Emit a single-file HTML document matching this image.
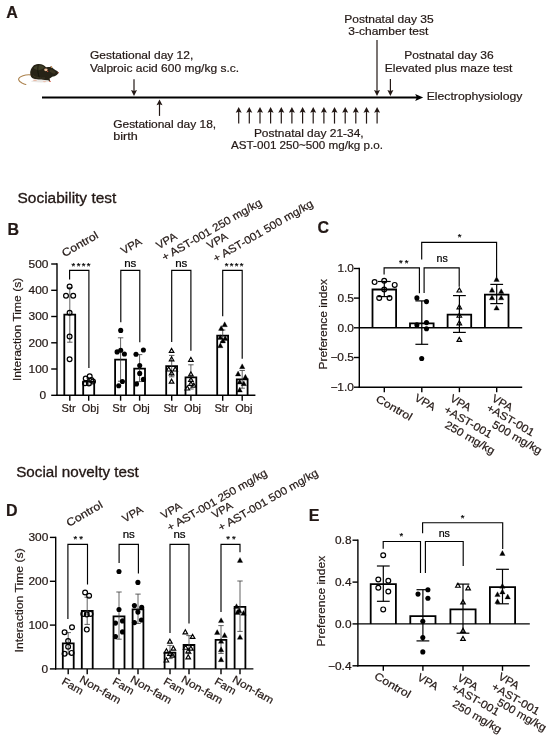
<!DOCTYPE html>
<html lang="en"><head><meta charset="utf-8"><title>Figure</title>
<style>html,body{margin:0;padding:0;background:#fff}svg{display:block}text{font-family:"Liberation Sans",sans-serif}</style></head>
<body>
<svg width="550" height="743" viewBox="0 0 550 743" font-family="'Liberation Sans', sans-serif" fill="#231815">
<rect width="550" height="743" fill="#fff"/>
<text x="6.2" y="17.7" font-size="16" font-weight="bold" stroke="#231815" stroke-width="0.2">A</text>
<defs><filter id="soft" x="-10%" y="-10%" width="120%" height="120%"><feGaussianBlur stdDeviation="0.4"/></filter></defs>
<ellipse cx="41" cy="81.2" rx="10" ry="1.3" fill="#d8d2cc" opacity="0.55" filter="url(#soft)"/>
<g id="mouse" filter="url(#soft)">
<path d="M31 74.9 C28 74.6 25 75 23 75.8 C20.4 76.8 18.4 78.2 18.6 79.6 C18.9 81.2 20.6 82.2 22 83 C23.2 83.6 24.6 84.2 25.8 84.5" fill="none" stroke="#ad8450" stroke-width="1.15" stroke-linecap="round"/>
<path d="M30.2 72 C30.6 69.6 31.4 67.8 32.8 66.4 C34.2 65 36 64.2 38 64.1 C40 64 41.8 64.2 43.2 64.9 C44.4 65.6 45.2 66.4 46 67.2 C47.4 67 49 67 50.2 67 C50.6 66.4 51 66 51.5 66 C52 66.2 52.2 67 52.3 67.8 C53.2 68.4 54 69 54.6 69.6 C56 70.4 57.6 71.4 58.5 72.5 C58.5 73.4 57.8 74.2 56.8 74.9 C55.4 75.8 53.8 76.4 52.2 76.8 C51.4 77.6 50.4 78.2 49.6 78.6 C49.8 79.6 50 80.4 50 81.2 C49.4 81.4 48.8 81 48.4 80.2 C46 80.2 43.6 79.8 41.2 79.5 C38.6 79.6 35.6 79.2 33.2 78.5 C31.8 77.8 31 77 30.8 76 C30.3 74.8 30.1 73.4 30.2 72 Z" fill="#262215"/>
<path d="M33.5 68 C35 66 37.5 65 40 65.2 C42 65.4 43.6 66.2 44.6 67.6 C43 69.2 41 70 38.6 70.2 C36.6 70.2 34.8 69.4 33.5 68 Z" fill="#47452c" opacity="0.75"/>
<path d="M38.2 65.4 C37.4 69 37.8 73.6 39.4 77.6" fill="none" stroke="#0d0c07" stroke-width="0.8" opacity="0.8"/>
<ellipse cx="52.6" cy="71.6" rx="3.2" ry="1.6" fill="#4a4630" opacity="0.55" transform="rotate(25 52.6 71.6)"/>
<path d="M33 75.5 C35.5 77.6 40 78.4 45 78" fill="none" stroke="#45412b" stroke-width="0.9" opacity="0.6"/>
<ellipse cx="45.9" cy="69.8" rx="1.75" ry="1.4" fill="#e8b48e"/>
<ellipse cx="46.1" cy="69.9" rx="0.8" ry="0.6" fill="#f6dcc0"/>
<ellipse cx="51.4" cy="67.0" rx="0.7" ry="1.0" fill="#d9a06e"/>
<circle cx="47.6" cy="71.4" r="0.7" fill="#b84a3a"/>
<circle cx="58.2" cy="72.6" r="0.65" fill="#a4483c"/>
<ellipse cx="35.0" cy="80.2" rx="2.0" ry="0.7" fill="#e8b9a6"/>
<ellipse cx="44.6" cy="81.6" rx="1.9" ry="0.7" fill="#ecc3b2"/>
<ellipse cx="50.0" cy="81.4" rx="0.8" ry="0.6" fill="#d8604a"/>
</g>
<line x1="42.0" y1="97.5" x2="417.0" y2="97.5" stroke="#000" stroke-width="2.0"/>
<path d="M423.2 97.5 L415.2 94.1 L416.8 97.5 L415.2 100.9 Z" fill="#000"/>
<text x="90.0" y="59.0" font-size="11.0" textLength="103.3" lengthAdjust="spacingAndGlyphs" stroke="#231815" stroke-width="0.2">Gestational day 12,</text>
<text x="90.0" y="71.6" font-size="11.0" textLength="149.1" lengthAdjust="spacingAndGlyphs" stroke="#231815" stroke-width="0.2">Valproic acid 600 mg/kg s.c.</text>
<line x1="134.0" y1="79.3" x2="134.0" y2="92.4" stroke="#231815" stroke-width="1.2"/>
<path d="M134.0 95.9 L131.0 90.1 L134.0 91.0 L137.0 90.1 Z" fill="#231815"/>
<line x1="159.5" y1="115.9" x2="159.5" y2="102.9" stroke="#231815" stroke-width="1.2"/>
<path d="M159.5 99.4 L156.5 105.2 L159.5 104.3 L162.5 105.2 Z" fill="#231815"/>
<text x="113.2" y="127.7" font-size="11.0" textLength="103.0" lengthAdjust="spacingAndGlyphs" stroke="#231815" stroke-width="0.2">Gestational day 18,</text>
<text x="113.2" y="139.9" font-size="11.0" textLength="24.5" lengthAdjust="spacingAndGlyphs" stroke="#231815" stroke-width="0.2">birth</text>
<line x1="238.7" y1="123.6" x2="238.7" y2="110.4" stroke="#231815" stroke-width="1.2"/>
<path d="M238.7 106.9 L235.7 112.7 L238.7 111.8 L241.7 112.7 Z" fill="#231815"/>
<line x1="249.3" y1="123.6" x2="249.3" y2="110.4" stroke="#231815" stroke-width="1.2"/>
<path d="M249.3 106.9 L246.3 112.7 L249.3 111.8 L252.3 112.7 Z" fill="#231815"/>
<line x1="260.0" y1="123.6" x2="260.0" y2="110.4" stroke="#231815" stroke-width="1.2"/>
<path d="M260.0 106.9 L257.0 112.7 L260.0 111.8 L263.0 112.7 Z" fill="#231815"/>
<line x1="270.6" y1="123.6" x2="270.6" y2="110.4" stroke="#231815" stroke-width="1.2"/>
<path d="M270.6 106.9 L267.6 112.7 L270.6 111.8 L273.6 112.7 Z" fill="#231815"/>
<line x1="281.3" y1="123.6" x2="281.3" y2="110.4" stroke="#231815" stroke-width="1.2"/>
<path d="M281.3 106.9 L278.3 112.7 L281.3 111.8 L284.3 112.7 Z" fill="#231815"/>
<line x1="291.9" y1="123.6" x2="291.9" y2="110.4" stroke="#231815" stroke-width="1.2"/>
<path d="M291.9 106.9 L288.9 112.7 L291.9 111.8 L294.9 112.7 Z" fill="#231815"/>
<line x1="302.6" y1="123.6" x2="302.6" y2="110.4" stroke="#231815" stroke-width="1.2"/>
<path d="M302.6 106.9 L299.6 112.7 L302.6 111.8 L305.6 112.7 Z" fill="#231815"/>
<line x1="313.2" y1="123.6" x2="313.2" y2="110.4" stroke="#231815" stroke-width="1.2"/>
<path d="M313.2 106.9 L310.2 112.7 L313.2 111.8 L316.2 112.7 Z" fill="#231815"/>
<line x1="323.9" y1="123.6" x2="323.9" y2="110.4" stroke="#231815" stroke-width="1.2"/>
<path d="M323.9 106.9 L320.9 112.7 L323.9 111.8 L326.9 112.7 Z" fill="#231815"/>
<line x1="334.5" y1="123.6" x2="334.5" y2="110.4" stroke="#231815" stroke-width="1.2"/>
<path d="M334.5 106.9 L331.5 112.7 L334.5 111.8 L337.5 112.7 Z" fill="#231815"/>
<line x1="345.2" y1="123.6" x2="345.2" y2="110.4" stroke="#231815" stroke-width="1.2"/>
<path d="M345.2 106.9 L342.2 112.7 L345.2 111.8 L348.2 112.7 Z" fill="#231815"/>
<line x1="355.8" y1="123.6" x2="355.8" y2="110.4" stroke="#231815" stroke-width="1.2"/>
<path d="M355.8 106.9 L352.8 112.7 L355.8 111.8 L358.8 112.7 Z" fill="#231815"/>
<line x1="366.5" y1="123.6" x2="366.5" y2="110.4" stroke="#231815" stroke-width="1.2"/>
<path d="M366.5 106.9 L363.5 112.7 L366.5 111.8 L369.5 112.7 Z" fill="#231815"/>
<line x1="377.1" y1="123.6" x2="377.1" y2="110.4" stroke="#231815" stroke-width="1.2"/>
<path d="M377.1 106.9 L374.1 112.7 L377.1 111.8 L380.1 112.7 Z" fill="#231815"/>
<text x="253.9" y="136.5" font-size="11.0" textLength="109.8" lengthAdjust="spacingAndGlyphs" stroke="#231815" stroke-width="0.2">Postnatal day 21-34,</text>
<text x="231.0" y="148.9" font-size="11.0" textLength="152.0" lengthAdjust="spacingAndGlyphs" stroke="#231815" stroke-width="0.2">AST-001 250~500 mg/kg p.o.</text>
<text x="344.3" y="22.8" font-size="11.0" textLength="89.3" lengthAdjust="spacingAndGlyphs" stroke="#231815" stroke-width="0.2">Postnatal day 35</text>
<text x="348.3" y="35.3" font-size="11.0" textLength="80.1" lengthAdjust="spacingAndGlyphs" stroke="#231815" stroke-width="0.2">3-chamber test</text>
<line x1="377.0" y1="40.0" x2="377.0" y2="92.4" stroke="#231815" stroke-width="1.2"/>
<path d="M377.0 95.9 L374.0 90.1 L377.0 91.0 L380.0 90.1 Z" fill="#231815"/>
<text x="404.3" y="58.8" font-size="11.0" textLength="89.3" lengthAdjust="spacingAndGlyphs" stroke="#231815" stroke-width="0.2">Postnatal day 36</text>
<text x="384.7" y="71.6" font-size="11.0" textLength="127.7" lengthAdjust="spacingAndGlyphs" stroke="#231815" stroke-width="0.2">Elevated plus maze test</text>
<line x1="390.4" y1="79.0" x2="390.4" y2="92.4" stroke="#231815" stroke-width="1.2"/>
<path d="M390.4 95.9 L387.4 90.1 L390.4 91.0 L393.4 90.1 Z" fill="#231815"/>
<text x="426.7" y="99.6" font-size="11.0" textLength="95.7" lengthAdjust="spacingAndGlyphs" stroke="#231815" stroke-width="0.2">Electrophysiology</text>
<text x="17.5" y="203.3" font-size="13.8" textLength="98.8" lengthAdjust="spacingAndGlyphs" stroke="#231815" stroke-width="0.3">Sociability test</text>
<text x="16.2" y="476.8" font-size="13.8" textLength="122.6" lengthAdjust="spacingAndGlyphs" stroke="#231815" stroke-width="0.3">Social novelty test</text>
<text x="7.5" y="234.6" font-size="16" font-weight="bold" stroke="#231815" stroke-width="0.2">B</text>
<text x="317.6" y="233.0" font-size="16" font-weight="bold" stroke="#231815" stroke-width="0.2">C</text>
<text x="5.9" y="515.6" font-size="16" font-weight="bold" stroke="#231815" stroke-width="0.2">D</text>
<text x="308.7" y="520.7" font-size="16" font-weight="bold" stroke="#231815" stroke-width="0.2">E</text>
<path d="M64.3 395.3 V314.7 H75.2 V395.3" fill="#fff" stroke="#000" stroke-width="1.8" stroke-linejoin="miter"/>
<path d="M83.2 395.3 V381.6 H94.2 V395.3" fill="#fff" stroke="#000" stroke-width="1.8" stroke-linejoin="miter"/>
<path d="M115.1 395.3 V359.6 H126.0 V395.3" fill="#fff" stroke="#000" stroke-width="1.8" stroke-linejoin="miter"/>
<path d="M134.2 395.3 V368.6 H145.0 V395.3" fill="#fff" stroke="#000" stroke-width="1.8" stroke-linejoin="miter"/>
<path d="M166.2 395.3 V366.1 H177.1 V395.3" fill="#fff" stroke="#000" stroke-width="1.8" stroke-linejoin="miter"/>
<path d="M185.5 395.3 V377.4 H196.3 V395.3" fill="#fff" stroke="#000" stroke-width="1.8" stroke-linejoin="miter"/>
<path d="M217.2 395.3 V335.7 H228.1 V395.3" fill="#fff" stroke="#000" stroke-width="1.8" stroke-linejoin="miter"/>
<path d="M236.8 395.3 V379.4 H247.6 V395.3" fill="#fff" stroke="#000" stroke-width="1.8" stroke-linejoin="miter"/>
<line x1="69.8" y1="287.4" x2="69.8" y2="342.2" stroke="#3a3a3a" stroke-width="0.8"/>
<line x1="67.1" y1="287.4" x2="72.5" y2="287.4" stroke="#3a3a3a" stroke-width="0.8"/>
<line x1="67.1" y1="342.2" x2="72.5" y2="342.2" stroke="#3a3a3a" stroke-width="0.8"/>
<circle cx="69.6" cy="286.5" r="2.4" fill="none" stroke="#000" stroke-width="1.2"/>
<circle cx="66.0" cy="295.8" r="2.4" fill="none" stroke="#000" stroke-width="1.2"/>
<circle cx="73.2" cy="295.8" r="2.4" fill="none" stroke="#000" stroke-width="1.2"/>
<circle cx="69.6" cy="312.8" r="2.4" fill="none" stroke="#000" stroke-width="1.2"/>
<circle cx="69.6" cy="336.5" r="2.4" fill="none" stroke="#000" stroke-width="1.2"/>
<circle cx="69.6" cy="359.2" r="2.4" fill="none" stroke="#000" stroke-width="1.2"/>
<line x1="88.7" y1="378.0" x2="88.7" y2="385.2" stroke="#3a3a3a" stroke-width="0.8"/>
<line x1="86.0" y1="378.0" x2="91.4" y2="378.0" stroke="#3a3a3a" stroke-width="0.8"/>
<line x1="86.0" y1="385.2" x2="91.4" y2="385.2" stroke="#3a3a3a" stroke-width="0.8"/>
<circle cx="85.7" cy="378.5" r="2.4" fill="none" stroke="#000" stroke-width="1.2"/>
<circle cx="89.7" cy="376.3" r="2.4" fill="none" stroke="#000" stroke-width="1.2"/>
<circle cx="93.0" cy="381.6" r="2.4" fill="none" stroke="#000" stroke-width="1.2"/>
<circle cx="85.0" cy="383.2" r="2.4" fill="none" stroke="#000" stroke-width="1.2"/>
<circle cx="88.9" cy="383.4" r="2.4" fill="none" stroke="#000" stroke-width="1.2"/>
<circle cx="91.4" cy="380.0" r="2.4" fill="none" stroke="#000" stroke-width="1.2"/>
<line x1="120.6" y1="337.8" x2="120.6" y2="381.2" stroke="#3a3a3a" stroke-width="0.8"/>
<line x1="117.9" y1="337.8" x2="123.3" y2="337.8" stroke="#3a3a3a" stroke-width="0.8"/>
<line x1="117.9" y1="381.2" x2="123.3" y2="381.2" stroke="#3a3a3a" stroke-width="0.8"/>
<circle cx="120.7" cy="330.4" r="2.55" fill="#000"/>
<circle cx="117.1" cy="351.9" r="2.55" fill="#000"/>
<circle cx="120.7" cy="350.3" r="2.55" fill="#000"/>
<circle cx="124.4" cy="354.0" r="2.55" fill="#000"/>
<circle cx="122.4" cy="381.5" r="2.55" fill="#000"/>
<circle cx="118.7" cy="385.8" r="2.55" fill="#000"/>
<line x1="139.6" y1="354.6" x2="139.6" y2="381.6" stroke="#3a3a3a" stroke-width="0.8"/>
<line x1="136.9" y1="354.6" x2="142.3" y2="354.6" stroke="#3a3a3a" stroke-width="0.8"/>
<line x1="136.9" y1="381.6" x2="142.3" y2="381.6" stroke="#3a3a3a" stroke-width="0.8"/>
<circle cx="143.4" cy="350.0" r="2.55" fill="#000"/>
<circle cx="136.0" cy="354.3" r="2.55" fill="#000"/>
<circle cx="139.7" cy="365.6" r="2.55" fill="#000"/>
<circle cx="139.7" cy="373.4" r="2.55" fill="#000"/>
<circle cx="143.4" cy="379.4" r="2.55" fill="#000"/>
<circle cx="136.5" cy="383.9" r="2.55" fill="#000"/>
<line x1="171.7" y1="355.4" x2="171.7" y2="376.8" stroke="#3a3a3a" stroke-width="0.8"/>
<line x1="169.0" y1="355.4" x2="174.4" y2="355.4" stroke="#3a3a3a" stroke-width="0.8"/>
<line x1="169.0" y1="376.8" x2="174.4" y2="376.8" stroke="#3a3a3a" stroke-width="0.8"/>
<polygon points="171.6,348.4 169.3,352.4 173.9,352.4" fill="none" stroke="#000" stroke-width="1.15"/>
<polygon points="171.6,356.8 169.3,360.8 173.9,360.8" fill="none" stroke="#000" stroke-width="1.15"/>
<polygon points="168.7,367.0 166.4,371.0 171.0,371.0" fill="none" stroke="#000" stroke-width="1.15"/>
<polygon points="175.2,367.0 172.9,371.0 177.5,371.0" fill="none" stroke="#000" stroke-width="1.15"/>
<polygon points="171.6,370.9 169.3,374.9 173.9,374.9" fill="none" stroke="#000" stroke-width="1.15"/>
<polygon points="171.6,379.1 169.3,383.1 173.9,383.1" fill="none" stroke="#000" stroke-width="1.15"/>
<line x1="190.9" y1="364.8" x2="190.9" y2="389.0" stroke="#3a3a3a" stroke-width="0.8"/>
<line x1="188.2" y1="364.8" x2="193.6" y2="364.8" stroke="#3a3a3a" stroke-width="0.8"/>
<line x1="188.2" y1="389.0" x2="193.6" y2="389.0" stroke="#3a3a3a" stroke-width="0.8"/>
<polygon points="190.9,357.3 188.6,361.3 193.2,361.3" fill="none" stroke="#000" stroke-width="1.15"/>
<polygon points="190.9,371.8 188.6,375.8 193.2,375.8" fill="none" stroke="#000" stroke-width="1.15"/>
<polygon points="190.9,377.5 188.6,381.5 193.2,381.5" fill="none" stroke="#000" stroke-width="1.15"/>
<polygon points="193.8,383.1 191.5,387.1 196.1,387.1" fill="none" stroke="#000" stroke-width="1.15"/>
<polygon points="187.3,386.0 185.0,390.0 189.6,390.0" fill="none" stroke="#000" stroke-width="1.15"/>
<polygon points="190.9,381.5 188.6,385.5 193.2,385.5" fill="none" stroke="#000" stroke-width="1.15"/>
<line x1="222.7" y1="330.0" x2="222.7" y2="341.8" stroke="#3a3a3a" stroke-width="0.8"/>
<line x1="220.0" y1="330.0" x2="225.4" y2="330.0" stroke="#3a3a3a" stroke-width="0.8"/>
<line x1="220.0" y1="341.8" x2="225.4" y2="341.8" stroke="#3a3a3a" stroke-width="0.8"/>
<polygon points="224.7,321.8 222.0,326.7 227.4,326.7" fill="#000" stroke="#000" stroke-width="0.3" stroke-linejoin="round"/>
<polygon points="221.2,325.5 218.5,330.4 223.9,330.4" fill="#000" stroke="#000" stroke-width="0.3" stroke-linejoin="round"/>
<polygon points="220.3,334.7 217.6,339.6 223.0,339.6" fill="#000" stroke="#000" stroke-width="0.3" stroke-linejoin="round"/>
<polygon points="225.2,335.5 222.5,340.4 227.9,340.4" fill="#000" stroke="#000" stroke-width="0.3" stroke-linejoin="round"/>
<polygon points="222.8,338.0 220.1,342.9 225.5,342.9" fill="#000" stroke="#000" stroke-width="0.3" stroke-linejoin="round"/>
<polygon points="220.3,342.8 217.6,347.7 223.0,347.7" fill="#000" stroke="#000" stroke-width="0.3" stroke-linejoin="round"/>
<line x1="242.2" y1="370.5" x2="242.2" y2="388.2" stroke="#3a3a3a" stroke-width="0.8"/>
<line x1="239.5" y1="370.5" x2="244.9" y2="370.5" stroke="#3a3a3a" stroke-width="0.8"/>
<line x1="239.5" y1="388.2" x2="244.9" y2="388.2" stroke="#3a3a3a" stroke-width="0.8"/>
<polygon points="242.2,363.8 239.5,368.7 244.9,368.7" fill="#000" stroke="#000" stroke-width="0.3" stroke-linejoin="round"/>
<polygon points="238.1,371.1 235.4,376.0 240.8,376.0" fill="#000" stroke="#000" stroke-width="0.3" stroke-linejoin="round"/>
<polygon points="245.4,374.3 242.7,379.2 248.1,379.2" fill="#000" stroke="#000" stroke-width="0.3" stroke-linejoin="round"/>
<polygon points="239.7,379.2 237.0,384.1 242.4,384.1" fill="#000" stroke="#000" stroke-width="0.3" stroke-linejoin="round"/>
<polygon points="243.8,380.8 241.1,385.7 246.5,385.7" fill="#000" stroke="#000" stroke-width="0.3" stroke-linejoin="round"/>
<polygon points="239.7,387.2 237.0,392.1 242.4,392.1" fill="#000" stroke="#000" stroke-width="0.3" stroke-linejoin="round"/>
<line x1="57.0" y1="263.2" x2="57.0" y2="396.0" stroke="#000" stroke-width="1.4"/>
<line x1="56.3" y1="395.3" x2="255.4" y2="395.3" stroke="#000" stroke-width="1.4"/>
<line x1="51.2" y1="395.3" x2="57.0" y2="395.3" stroke="#000" stroke-width="1.4"/>
<text x="46.2" y="399.0" font-size="10.4" text-anchor="end" textLength="6.6" lengthAdjust="spacingAndGlyphs" stroke="#231815" stroke-width="0.2">0</text>
<line x1="51.2" y1="369.0" x2="57.0" y2="369.0" stroke="#000" stroke-width="1.4"/>
<text x="48.4" y="372.7" font-size="10.4" text-anchor="end" textLength="19.9" lengthAdjust="spacingAndGlyphs" stroke="#231815" stroke-width="0.2">100</text>
<line x1="51.2" y1="342.8" x2="57.0" y2="342.8" stroke="#000" stroke-width="1.4"/>
<text x="48.4" y="346.5" font-size="10.4" text-anchor="end" textLength="19.9" lengthAdjust="spacingAndGlyphs" stroke="#231815" stroke-width="0.2">200</text>
<line x1="51.2" y1="316.5" x2="57.0" y2="316.5" stroke="#000" stroke-width="1.4"/>
<text x="48.4" y="320.2" font-size="10.4" text-anchor="end" textLength="19.9" lengthAdjust="spacingAndGlyphs" stroke="#231815" stroke-width="0.2">300</text>
<line x1="51.2" y1="290.3" x2="57.0" y2="290.3" stroke="#000" stroke-width="1.4"/>
<text x="48.4" y="294.0" font-size="10.4" text-anchor="end" textLength="19.9" lengthAdjust="spacingAndGlyphs" stroke="#231815" stroke-width="0.2">400</text>
<line x1="51.2" y1="264.0" x2="57.0" y2="264.0" stroke="#000" stroke-width="1.4"/>
<text x="48.4" y="267.7" font-size="10.4" text-anchor="end" textLength="19.9" lengthAdjust="spacingAndGlyphs" stroke="#231815" stroke-width="0.2">500</text>
<line x1="69.8" y1="395.3" x2="69.8" y2="400.7" stroke="#000" stroke-width="1.4"/>
<line x1="88.7" y1="395.3" x2="88.7" y2="400.7" stroke="#000" stroke-width="1.4"/>
<line x1="120.6" y1="395.3" x2="120.6" y2="400.7" stroke="#000" stroke-width="1.4"/>
<line x1="139.6" y1="395.3" x2="139.6" y2="400.7" stroke="#000" stroke-width="1.4"/>
<line x1="171.7" y1="395.3" x2="171.7" y2="400.7" stroke="#000" stroke-width="1.4"/>
<line x1="190.9" y1="395.3" x2="190.9" y2="400.7" stroke="#000" stroke-width="1.4"/>
<line x1="222.7" y1="395.3" x2="222.7" y2="400.7" stroke="#000" stroke-width="1.4"/>
<line x1="242.2" y1="395.3" x2="242.2" y2="400.7" stroke="#000" stroke-width="1.4"/>
<text x="21.4" y="329.4" font-size="10.7" text-anchor="middle" transform="rotate(-90 21.4 329.4)" textLength="103.2" lengthAdjust="spacingAndGlyphs" stroke="#231815" stroke-width="0.2">Interaction Time (s)</text>
<path d="M69.6 279.5 V270.4 H88.9 V368.0" fill="none" stroke="#000" stroke-width="1.15"/>
<text x="81.0" y="269.1" font-size="9.5" text-anchor="middle" textLength="18.8" lengthAdjust="spacing" fill="#000" stroke="#000" stroke-width="0.2">****</text>
<path d="M120.8 322.3 V270.4 H139.8 V342.2" fill="none" stroke="#000" stroke-width="1.15"/>
<text x="130.3" y="266.9" font-size="10.8" text-anchor="middle" textLength="12.2" lengthAdjust="spacingAndGlyphs" fill="#000" stroke="#000" stroke-width="0.2">ns</text>
<path d="M171.7 341.9 V270.4 H190.9 V350.8" fill="none" stroke="#000" stroke-width="1.15"/>
<text x="181.3" y="266.9" font-size="10.8" text-anchor="middle" textLength="12.2" lengthAdjust="spacingAndGlyphs" fill="#000" stroke="#000" stroke-width="0.2">ns</text>
<path d="M222.7 316.3 V270.4 H242.2 V358.8" fill="none" stroke="#000" stroke-width="1.15"/>
<text x="234.1" y="269.1" font-size="9.5" text-anchor="middle" textLength="18.8" lengthAdjust="spacing" fill="#000" stroke="#000" stroke-width="0.2">****</text>
<text x="68.6" y="411.6" font-size="10.7" text-anchor="middle" textLength="14.2" lengthAdjust="spacingAndGlyphs" stroke="#231815" stroke-width="0.2">Str</text>
<text x="90.3" y="411.6" font-size="10.7" text-anchor="middle" textLength="17.1" lengthAdjust="spacingAndGlyphs" stroke="#231815" stroke-width="0.2">Obj</text>
<text x="119.4" y="411.6" font-size="10.7" text-anchor="middle" textLength="14.2" lengthAdjust="spacingAndGlyphs" stroke="#231815" stroke-width="0.2">Str</text>
<text x="141.2" y="411.6" font-size="10.7" text-anchor="middle" textLength="17.1" lengthAdjust="spacingAndGlyphs" stroke="#231815" stroke-width="0.2">Obj</text>
<text x="170.5" y="411.6" font-size="10.7" text-anchor="middle" textLength="14.2" lengthAdjust="spacingAndGlyphs" stroke="#231815" stroke-width="0.2">Str</text>
<text x="192.5" y="411.6" font-size="10.7" text-anchor="middle" textLength="17.1" lengthAdjust="spacingAndGlyphs" stroke="#231815" stroke-width="0.2">Obj</text>
<text x="221.5" y="411.6" font-size="10.7" text-anchor="middle" textLength="14.2" lengthAdjust="spacingAndGlyphs" stroke="#231815" stroke-width="0.2">Str</text>
<text x="243.8" y="411.6" font-size="10.7" text-anchor="middle" textLength="17.1" lengthAdjust="spacingAndGlyphs" stroke="#231815" stroke-width="0.2">Obj</text>
<text x="64.5" y="257.3" font-size="10.9" transform="rotate(-30 64.5 257.3)" textLength="40.0" lengthAdjust="spacingAndGlyphs" stroke="#231815" stroke-width="0.2">Control</text>
<text x="123.6" y="254.7" font-size="10.9" transform="rotate(-30 123.6 254.7)" textLength="22.1" lengthAdjust="spacingAndGlyphs" stroke="#231815" stroke-width="0.2">VPA</text>
<text x="158.7" y="249.4" font-size="10.9" transform="rotate(-30 158.7 249.4)" textLength="22.1" lengthAdjust="spacingAndGlyphs" stroke="#231815" stroke-width="0.2">VPA</text>
<text x="164.4" y="261.3" font-size="10.9" transform="rotate(-30 164.4 261.3)" textLength="113.4" lengthAdjust="spacingAndGlyphs" stroke="#231815" stroke-width="0.2">+ AST-001 250 mg/kg</text>
<text x="209.6" y="249.4" font-size="10.9" transform="rotate(-30 209.6 249.4)" textLength="22.1" lengthAdjust="spacingAndGlyphs" stroke="#231815" stroke-width="0.2">VPA</text>
<text x="215.8" y="262.5" font-size="10.9" transform="rotate(-30 215.8 262.5)" textLength="113.4" lengthAdjust="spacingAndGlyphs" stroke="#231815" stroke-width="0.2">+ AST-001 500 mg/kg</text>
<path d="M62.8 668.9 V643.3 H73.7 V668.9" fill="#fff" stroke="#000" stroke-width="1.8" stroke-linejoin="miter"/>
<path d="M81.8 668.9 V610.8 H92.7 V668.9" fill="#fff" stroke="#000" stroke-width="1.8" stroke-linejoin="miter"/>
<path d="M113.5 668.9 V616.4 H124.5 V668.9" fill="#fff" stroke="#000" stroke-width="1.8" stroke-linejoin="miter"/>
<path d="M132.6 668.9 V609.4 H143.4 V668.9" fill="#fff" stroke="#000" stroke-width="1.8" stroke-linejoin="miter"/>
<path d="M164.6 668.9 V652.6 H175.4 V668.9" fill="#fff" stroke="#000" stroke-width="1.8" stroke-linejoin="miter"/>
<path d="M183.6 668.9 V645.0 H194.4 V668.9" fill="#fff" stroke="#000" stroke-width="1.8" stroke-linejoin="miter"/>
<path d="M215.6 668.9 V639.8 H226.4 V668.9" fill="#fff" stroke="#000" stroke-width="1.8" stroke-linejoin="miter"/>
<path d="M234.6 668.9 V606.9 H245.4 V668.9" fill="#fff" stroke="#000" stroke-width="1.8" stroke-linejoin="miter"/>
<line x1="68.2" y1="632.6" x2="68.2" y2="654.0" stroke="#3a3a3a" stroke-width="0.8"/>
<line x1="65.5" y1="632.6" x2="70.9" y2="632.6" stroke="#3a3a3a" stroke-width="0.8"/>
<line x1="65.5" y1="654.0" x2="70.9" y2="654.0" stroke="#3a3a3a" stroke-width="0.8"/>
<circle cx="72.0" cy="627.3" r="2.4" fill="none" stroke="#000" stroke-width="1.2"/>
<circle cx="64.6" cy="632.2" r="2.4" fill="none" stroke="#000" stroke-width="1.2"/>
<circle cx="68.1" cy="641.0" r="2.4" fill="none" stroke="#000" stroke-width="1.2"/>
<circle cx="68.1" cy="646.8" r="2.4" fill="none" stroke="#000" stroke-width="1.2"/>
<circle cx="64.6" cy="653.8" r="2.4" fill="none" stroke="#000" stroke-width="1.2"/>
<circle cx="71.6" cy="652.9" r="2.4" fill="none" stroke="#000" stroke-width="1.2"/>
<line x1="87.2" y1="597.2" x2="87.2" y2="624.4" stroke="#3a3a3a" stroke-width="0.8"/>
<line x1="84.5" y1="597.2" x2="89.9" y2="597.2" stroke="#3a3a3a" stroke-width="0.8"/>
<line x1="84.5" y1="624.4" x2="89.9" y2="624.4" stroke="#3a3a3a" stroke-width="0.8"/>
<circle cx="85.1" cy="592.5" r="2.4" fill="none" stroke="#000" stroke-width="1.2"/>
<circle cx="89.1" cy="595.8" r="2.4" fill="none" stroke="#000" stroke-width="1.2"/>
<circle cx="83.3" cy="613.9" r="2.4" fill="none" stroke="#000" stroke-width="1.2"/>
<circle cx="86.8" cy="614.4" r="2.4" fill="none" stroke="#000" stroke-width="1.2"/>
<circle cx="90.5" cy="613.9" r="2.4" fill="none" stroke="#000" stroke-width="1.2"/>
<circle cx="86.8" cy="629.6" r="2.4" fill="none" stroke="#000" stroke-width="1.2"/>
<line x1="119.0" y1="592.0" x2="119.0" y2="639.2" stroke="#3a3a3a" stroke-width="0.8"/>
<line x1="116.3" y1="592.0" x2="121.7" y2="592.0" stroke="#3a3a3a" stroke-width="0.8"/>
<line x1="116.3" y1="639.2" x2="121.7" y2="639.2" stroke="#3a3a3a" stroke-width="0.8"/>
<circle cx="119.0" cy="571.5" r="2.55" fill="#000"/>
<circle cx="119.0" cy="609.5" r="2.55" fill="#000"/>
<circle cx="122.5" cy="620.9" r="2.55" fill="#000"/>
<circle cx="115.5" cy="623.1" r="2.55" fill="#000"/>
<circle cx="122.5" cy="631.9" r="2.55" fill="#000"/>
<circle cx="115.5" cy="636.6" r="2.55" fill="#000"/>
<line x1="138.0" y1="594.1" x2="138.0" y2="623.5" stroke="#3a3a3a" stroke-width="0.8"/>
<line x1="135.3" y1="594.1" x2="140.7" y2="594.1" stroke="#3a3a3a" stroke-width="0.8"/>
<line x1="135.3" y1="623.5" x2="140.7" y2="623.5" stroke="#3a3a3a" stroke-width="0.8"/>
<circle cx="137.9" cy="582.4" r="2.55" fill="#000"/>
<circle cx="134.4" cy="605.6" r="2.55" fill="#000"/>
<circle cx="141.7" cy="607.4" r="2.55" fill="#000"/>
<circle cx="137.9" cy="612.1" r="2.55" fill="#000"/>
<circle cx="141.4" cy="620.0" r="2.55" fill="#000"/>
<circle cx="134.4" cy="622.6" r="2.55" fill="#000"/>
<line x1="170.0" y1="645.4" x2="170.0" y2="658.6" stroke="#3a3a3a" stroke-width="0.8"/>
<line x1="167.3" y1="645.4" x2="172.7" y2="645.4" stroke="#3a3a3a" stroke-width="0.8"/>
<line x1="167.3" y1="658.6" x2="172.7" y2="658.6" stroke="#3a3a3a" stroke-width="0.8"/>
<polygon points="169.9,639.1 167.6,643.1 172.2,643.1" fill="none" stroke="#000" stroke-width="1.15"/>
<polygon points="173.4,646.1 171.1,650.1 175.7,650.1" fill="none" stroke="#000" stroke-width="1.15"/>
<polygon points="166.4,648.7 164.1,652.8 168.7,652.8" fill="none" stroke="#000" stroke-width="1.15"/>
<polygon points="172.5,653.1 170.2,657.1 174.8,657.1" fill="none" stroke="#000" stroke-width="1.15"/>
<polygon points="166.4,658.0 164.1,662.0 168.7,662.0" fill="none" stroke="#000" stroke-width="1.15"/>
<polygon points="169.9,651.3 167.6,655.4 172.2,655.4" fill="none" stroke="#000" stroke-width="1.15"/>
<line x1="189.0" y1="635.6" x2="189.0" y2="653.6" stroke="#3a3a3a" stroke-width="0.8"/>
<line x1="186.3" y1="635.6" x2="191.7" y2="635.6" stroke="#3a3a3a" stroke-width="0.8"/>
<line x1="186.3" y1="653.6" x2="191.7" y2="653.6" stroke="#3a3a3a" stroke-width="0.8"/>
<polygon points="185.3,629.8 183.0,633.9 187.6,633.9" fill="none" stroke="#000" stroke-width="1.15"/>
<polygon points="192.6,634.4 190.3,638.4 194.9,638.4" fill="none" stroke="#000" stroke-width="1.15"/>
<polygon points="185.6,645.2 183.3,649.2 187.9,649.2" fill="none" stroke="#000" stroke-width="1.15"/>
<polygon points="190.9,646.1 188.6,650.1 193.2,650.1" fill="none" stroke="#000" stroke-width="1.15"/>
<polygon points="188.2,654.8 185.9,658.9 190.5,658.9" fill="none" stroke="#000" stroke-width="1.15"/>
<polygon points="188.2,648.7 185.9,652.8 190.5,652.8" fill="none" stroke="#000" stroke-width="1.15"/>
<line x1="221.0" y1="625.6" x2="221.0" y2="653.4" stroke="#3a3a3a" stroke-width="0.8"/>
<line x1="218.3" y1="625.6" x2="223.7" y2="625.6" stroke="#3a3a3a" stroke-width="0.8"/>
<line x1="218.3" y1="653.4" x2="223.7" y2="653.4" stroke="#3a3a3a" stroke-width="0.8"/>
<polygon points="221.1,617.7 218.4,622.6 223.8,622.6" fill="#000" stroke="#000" stroke-width="0.3" stroke-linejoin="round"/>
<polygon points="217.2,629.6 214.5,634.5 219.9,634.5" fill="#000" stroke="#000" stroke-width="0.3" stroke-linejoin="round"/>
<polygon points="224.6,632.6 221.9,637.5 227.3,637.5" fill="#000" stroke="#000" stroke-width="0.3" stroke-linejoin="round"/>
<polygon points="221.1,638.4 218.4,643.3 223.8,643.3" fill="#000" stroke="#000" stroke-width="0.3" stroke-linejoin="round"/>
<polygon points="221.1,646.8 218.4,651.7 223.8,651.7" fill="#000" stroke="#000" stroke-width="0.3" stroke-linejoin="round"/>
<polygon points="221.1,656.8 218.4,661.7 223.8,661.7" fill="#000" stroke="#000" stroke-width="0.3" stroke-linejoin="round"/>
<line x1="240.0" y1="581.0" x2="240.0" y2="631.4" stroke="#3a3a3a" stroke-width="0.8"/>
<line x1="237.3" y1="581.0" x2="242.7" y2="581.0" stroke="#3a3a3a" stroke-width="0.8"/>
<line x1="237.3" y1="631.4" x2="242.7" y2="631.4" stroke="#3a3a3a" stroke-width="0.8"/>
<polygon points="240.0,557.5 237.3,562.4 242.7,562.4" fill="#000" stroke="#000" stroke-width="0.3" stroke-linejoin="round"/>
<polygon points="236.5,603.7 233.8,608.6 239.2,608.6" fill="#000" stroke="#000" stroke-width="0.3" stroke-linejoin="round"/>
<polygon points="239.2,607.8 236.5,612.7 241.9,612.7" fill="#000" stroke="#000" stroke-width="0.3" stroke-linejoin="round"/>
<polygon points="243.5,610.4 240.8,615.3 246.2,615.3" fill="#000" stroke="#000" stroke-width="0.3" stroke-linejoin="round"/>
<polygon points="237.4,609.5 234.7,614.4 240.1,614.4" fill="#000" stroke="#000" stroke-width="0.3" stroke-linejoin="round"/>
<polygon points="240.0,634.4 237.3,639.3 242.7,639.3" fill="#000" stroke="#000" stroke-width="0.3" stroke-linejoin="round"/>
<line x1="55.7" y1="536.7" x2="55.7" y2="669.6" stroke="#000" stroke-width="1.4"/>
<line x1="55.0" y1="668.9" x2="253.4" y2="668.9" stroke="#000" stroke-width="1.4"/>
<line x1="49.9" y1="668.9" x2="55.7" y2="668.9" stroke="#000" stroke-width="1.4"/>
<text x="48.0" y="672.6" font-size="10.4" text-anchor="end" textLength="6.6" lengthAdjust="spacingAndGlyphs" stroke="#231815" stroke-width="0.2">0</text>
<line x1="49.9" y1="625.1" x2="55.7" y2="625.1" stroke="#000" stroke-width="1.4"/>
<text x="48.3" y="628.8" font-size="10.4" text-anchor="end" textLength="19.9" lengthAdjust="spacingAndGlyphs" stroke="#231815" stroke-width="0.2">100</text>
<line x1="49.9" y1="581.3" x2="55.7" y2="581.3" stroke="#000" stroke-width="1.4"/>
<text x="48.3" y="585.0" font-size="10.4" text-anchor="end" textLength="19.9" lengthAdjust="spacingAndGlyphs" stroke="#231815" stroke-width="0.2">200</text>
<line x1="49.9" y1="537.4" x2="55.7" y2="537.4" stroke="#000" stroke-width="1.4"/>
<text x="48.3" y="541.1" font-size="10.4" text-anchor="end" textLength="19.9" lengthAdjust="spacingAndGlyphs" stroke="#231815" stroke-width="0.2">300</text>
<line x1="68.2" y1="668.9" x2="68.2" y2="674.3" stroke="#000" stroke-width="1.4"/>
<line x1="87.2" y1="668.9" x2="87.2" y2="674.3" stroke="#000" stroke-width="1.4"/>
<line x1="119.0" y1="668.9" x2="119.0" y2="674.3" stroke="#000" stroke-width="1.4"/>
<line x1="138.0" y1="668.9" x2="138.0" y2="674.3" stroke="#000" stroke-width="1.4"/>
<line x1="170.0" y1="668.9" x2="170.0" y2="674.3" stroke="#000" stroke-width="1.4"/>
<line x1="189.0" y1="668.9" x2="189.0" y2="674.3" stroke="#000" stroke-width="1.4"/>
<line x1="221.0" y1="668.9" x2="221.0" y2="674.3" stroke="#000" stroke-width="1.4"/>
<line x1="240.0" y1="668.9" x2="240.0" y2="674.3" stroke="#000" stroke-width="1.4"/>
<text x="23.0" y="600.4" font-size="10.7" text-anchor="middle" transform="rotate(-90 23.0 600.4)" textLength="104.2" lengthAdjust="spacingAndGlyphs" stroke="#231815" stroke-width="0.2">Interaction Time (s)</text>
<path d="M67.9 619.1 V544.3 H87.5 V584.6" fill="none" stroke="#000" stroke-width="1.15"/>
<text x="78.2" y="541.9" font-size="9.5" text-anchor="middle" textLength="9.4" lengthAdjust="spacing" fill="#000" stroke="#000" stroke-width="0.2">**</text>
<path d="M119.1 563.1 V544.3 H138.4 V573.6" fill="none" stroke="#000" stroke-width="1.15"/>
<text x="128.8" y="537.7" font-size="10.8" text-anchor="middle" textLength="12.2" lengthAdjust="spacingAndGlyphs" fill="#000" stroke="#000" stroke-width="0.2">ns</text>
<path d="M170.0 633.1 V544.3 H189.0 V623.5" fill="none" stroke="#000" stroke-width="1.15"/>
<text x="179.5" y="537.7" font-size="10.8" text-anchor="middle" textLength="12.2" lengthAdjust="spacingAndGlyphs" fill="#000" stroke="#000" stroke-width="0.2">ns</text>
<path d="M221.0 612.1 V544.3 H240.0 V552.3" fill="none" stroke="#000" stroke-width="1.15"/>
<text x="231.0" y="541.9" font-size="9.5" text-anchor="middle" textLength="9.4" lengthAdjust="spacing" fill="#000" stroke="#000" stroke-width="0.2">**</text>
<text x="61.0" y="683.6" font-size="10.7" transform="rotate(30 61.0 683.6)" textLength="22.8" lengthAdjust="spacingAndGlyphs" stroke="#231815" stroke-width="0.2">Fam</text>
<text x="78.8" y="681.4" font-size="10.7" transform="rotate(30 78.8 681.4)" textLength="45.6" lengthAdjust="spacingAndGlyphs" stroke="#231815" stroke-width="0.2">Non-fam</text>
<text x="111.8" y="683.6" font-size="10.7" transform="rotate(30 111.8 683.6)" textLength="22.8" lengthAdjust="spacingAndGlyphs" stroke="#231815" stroke-width="0.2">Fam</text>
<text x="129.6" y="681.4" font-size="10.7" transform="rotate(30 129.6 681.4)" textLength="45.6" lengthAdjust="spacingAndGlyphs" stroke="#231815" stroke-width="0.2">Non-fam</text>
<text x="162.8" y="683.6" font-size="10.7" transform="rotate(30 162.8 683.6)" textLength="22.8" lengthAdjust="spacingAndGlyphs" stroke="#231815" stroke-width="0.2">Fam</text>
<text x="180.6" y="681.4" font-size="10.7" transform="rotate(30 180.6 681.4)" textLength="45.6" lengthAdjust="spacingAndGlyphs" stroke="#231815" stroke-width="0.2">Non-fam</text>
<text x="213.8" y="683.6" font-size="10.7" transform="rotate(30 213.8 683.6)" textLength="22.8" lengthAdjust="spacingAndGlyphs" stroke="#231815" stroke-width="0.2">Fam</text>
<text x="231.6" y="681.4" font-size="10.7" transform="rotate(30 231.6 681.4)" textLength="45.6" lengthAdjust="spacingAndGlyphs" stroke="#231815" stroke-width="0.2">Non-fam</text>
<text x="69.0" y="526.9" font-size="10.9" transform="rotate(-30 69.0 526.9)" textLength="40.0" lengthAdjust="spacingAndGlyphs" stroke="#231815" stroke-width="0.2">Control</text>
<text x="124.8" y="522.7" font-size="10.9" transform="rotate(-30 124.8 522.7)" textLength="22.1" lengthAdjust="spacingAndGlyphs" stroke="#231815" stroke-width="0.2">VPA</text>
<text x="163.6" y="519.2" font-size="10.9" transform="rotate(-30 163.6 519.2)" textLength="22.1" lengthAdjust="spacingAndGlyphs" stroke="#231815" stroke-width="0.2">VPA</text>
<text x="169.8" y="531.6" font-size="10.9" transform="rotate(-30 169.8 531.6)" textLength="113.4" lengthAdjust="spacingAndGlyphs" stroke="#231815" stroke-width="0.2">+ AST-001 250 mg/kg</text>
<text x="214.5" y="518.8" font-size="10.9" transform="rotate(-30 214.5 518.8)" textLength="22.1" lengthAdjust="spacingAndGlyphs" stroke="#231815" stroke-width="0.2">VPA</text>
<text x="220.7" y="531.6" font-size="10.9" transform="rotate(-30 220.7 531.6)" textLength="113.4" lengthAdjust="spacingAndGlyphs" stroke="#231815" stroke-width="0.2">+ AST-001 500 mg/kg</text>
<path d="M372.5 327.8 V289.5 H396.1 V327.8" fill="#fff" stroke="#000" stroke-width="1.8" stroke-linejoin="miter"/>
<path d="M410.0 327.8 V323.4 H433.6 V327.8" fill="#fff" stroke="#000" stroke-width="1.8" stroke-linejoin="miter"/>
<path d="M447.6 327.8 V314.6 H471.2 V327.8" fill="#fff" stroke="#000" stroke-width="1.8" stroke-linejoin="miter"/>
<path d="M484.9 327.8 V294.7 H508.5 V327.8" fill="#fff" stroke="#000" stroke-width="1.8" stroke-linejoin="miter"/>
<line x1="359.3" y1="327.8" x2="522.2" y2="327.8" stroke="#000" stroke-width="1.4"/>
<line x1="384.3" y1="281.5" x2="384.3" y2="296.6" stroke="#000" stroke-width="1.2"/>
<line x1="377.9" y1="281.5" x2="390.7" y2="281.5" stroke="#000" stroke-width="1.2"/>
<line x1="377.9" y1="296.6" x2="390.7" y2="296.6" stroke="#000" stroke-width="1.2"/>
<circle cx="374.6" cy="282.1" r="2.4" fill="none" stroke="#000" stroke-width="1.2"/>
<circle cx="384.2" cy="280.8" r="2.4" fill="none" stroke="#000" stroke-width="1.2"/>
<circle cx="394.7" cy="284.9" r="2.4" fill="none" stroke="#000" stroke-width="1.2"/>
<circle cx="384.2" cy="289.5" r="2.4" fill="none" stroke="#000" stroke-width="1.2"/>
<circle cx="379.2" cy="297.9" r="2.4" fill="none" stroke="#000" stroke-width="1.2"/>
<circle cx="389.5" cy="297.9" r="2.4" fill="none" stroke="#000" stroke-width="1.2"/>
<line x1="421.8" y1="300.9" x2="421.8" y2="344.3" stroke="#000" stroke-width="1.2"/>
<line x1="415.4" y1="300.9" x2="428.2" y2="300.9" stroke="#000" stroke-width="1.2"/>
<line x1="415.4" y1="344.3" x2="428.2" y2="344.3" stroke="#000" stroke-width="1.2"/>
<circle cx="416.9" cy="297.9" r="2.55" fill="#000"/>
<circle cx="426.5" cy="301.6" r="2.55" fill="#000"/>
<circle cx="416.9" cy="324.9" r="2.55" fill="#000"/>
<circle cx="426.5" cy="322.6" r="2.55" fill="#000"/>
<circle cx="426.5" cy="328.8" r="2.55" fill="#000"/>
<circle cx="421.7" cy="358.5" r="2.55" fill="#000"/>
<line x1="459.4" y1="295.6" x2="459.4" y2="332.4" stroke="#000" stroke-width="1.2"/>
<line x1="453.0" y1="295.6" x2="465.8" y2="295.6" stroke="#000" stroke-width="1.2"/>
<line x1="453.0" y1="332.4" x2="465.8" y2="332.4" stroke="#000" stroke-width="1.2"/>
<polygon points="459.3,288.0 457.0,292.0 461.6,292.0" fill="none" stroke="#000" stroke-width="1.15"/>
<polygon points="459.3,304.7 457.0,308.8 461.6,308.8" fill="none" stroke="#000" stroke-width="1.15"/>
<polygon points="459.3,313.2 457.0,317.2 461.6,317.2" fill="none" stroke="#000" stroke-width="1.15"/>
<polygon points="459.3,320.7 457.0,324.8 461.6,324.8" fill="none" stroke="#000" stroke-width="1.15"/>
<polygon points="459.3,337.4 457.0,341.4 461.6,341.4" fill="none" stroke="#000" stroke-width="1.15"/>
<line x1="496.7" y1="284.4" x2="496.7" y2="303.6" stroke="#000" stroke-width="1.2"/>
<line x1="490.3" y1="284.4" x2="503.1" y2="284.4" stroke="#000" stroke-width="1.2"/>
<line x1="490.3" y1="303.6" x2="503.1" y2="303.6" stroke="#000" stroke-width="1.2"/>
<polygon points="496.6,276.6 493.9,281.5 499.3,281.5" fill="#000" stroke="#000" stroke-width="0.3" stroke-linejoin="round"/>
<polygon points="492.0,287.3 489.3,292.2 494.7,292.2" fill="#000" stroke="#000" stroke-width="0.3" stroke-linejoin="round"/>
<polygon points="501.2,288.7 498.5,293.6 503.9,293.6" fill="#000" stroke="#000" stroke-width="0.3" stroke-linejoin="round"/>
<polygon points="492.0,294.9 489.3,299.8 494.7,299.8" fill="#000" stroke="#000" stroke-width="0.3" stroke-linejoin="round"/>
<polygon points="501.2,294.9 498.5,299.8 503.9,299.8" fill="#000" stroke="#000" stroke-width="0.3" stroke-linejoin="round"/>
<polygon points="496.6,305.2 493.9,310.1 499.3,310.1" fill="#000" stroke="#000" stroke-width="0.3" stroke-linejoin="round"/>
<line x1="359.3" y1="267.8" x2="359.3" y2="387.9" stroke="#000" stroke-width="1.4"/>
<line x1="358.6" y1="387.2" x2="522.2" y2="387.2" stroke="#000" stroke-width="1.4"/>
<line x1="353.9" y1="268.5" x2="359.3" y2="268.5" stroke="#000" stroke-width="1.4"/>
<text x="353.9" y="272.2" font-size="10.4" text-anchor="end" textLength="16.5" lengthAdjust="spacingAndGlyphs" stroke="#231815" stroke-width="0.2">1.0</text>
<line x1="353.9" y1="298.1" x2="359.3" y2="298.1" stroke="#000" stroke-width="1.4"/>
<text x="353.9" y="301.8" font-size="10.4" text-anchor="end" textLength="16.5" lengthAdjust="spacingAndGlyphs" stroke="#231815" stroke-width="0.2">0.5</text>
<line x1="353.9" y1="327.8" x2="359.3" y2="327.8" stroke="#000" stroke-width="1.4"/>
<text x="353.9" y="331.5" font-size="10.4" text-anchor="end" textLength="16.5" lengthAdjust="spacingAndGlyphs" stroke="#231815" stroke-width="0.2">0.0</text>
<line x1="353.9" y1="357.5" x2="359.3" y2="357.5" stroke="#000" stroke-width="1.4"/>
<text x="353.9" y="361.2" font-size="10.4" text-anchor="end" textLength="23.5" lengthAdjust="spacingAndGlyphs" stroke="#231815" stroke-width="0.2">−0.5</text>
<line x1="353.9" y1="387.2" x2="359.3" y2="387.2" stroke="#000" stroke-width="1.4"/>
<text x="353.9" y="390.9" font-size="10.4" text-anchor="end" textLength="23.5" lengthAdjust="spacingAndGlyphs" stroke="#231815" stroke-width="0.2">−1.0</text>
<line x1="384.3" y1="387.2" x2="384.3" y2="392.2" stroke="#000" stroke-width="1.4"/>
<line x1="421.8" y1="387.2" x2="421.8" y2="392.2" stroke="#000" stroke-width="1.4"/>
<line x1="459.4" y1="387.2" x2="459.4" y2="392.2" stroke="#000" stroke-width="1.4"/>
<line x1="496.7" y1="387.2" x2="496.7" y2="392.2" stroke="#000" stroke-width="1.4"/>
<text x="327.4" y="324.3" font-size="10.7" text-anchor="middle" transform="rotate(-90 327.4 324.3)" textLength="90.5" lengthAdjust="spacingAndGlyphs" stroke="#231815" stroke-width="0.2">Preference index</text>
<path d="M384.1 274.6 V267.8 H419.4 V293.2" fill="none" stroke="#000" stroke-width="1.15"/>
<text x="403.8" y="266.3" font-size="9.5" text-anchor="middle" textLength="9.4" lengthAdjust="spacing" fill="#000" stroke="#000" stroke-width="0.2">**</text>
<path d="M424.1 293.0 V267.8 H459.2 V286.7" fill="none" stroke="#000" stroke-width="1.15"/>
<text x="442.2" y="261.9" font-size="10.0" text-anchor="middle" textLength="11.3" lengthAdjust="spacingAndGlyphs" fill="#000" stroke="#000" stroke-width="0.2">ns</text>
<path d="M421.7 259.5 V242.3 H496.6 V277.0" fill="none" stroke="#000" stroke-width="1.15"/>
<text x="459.6" y="239.8" font-size="9.5" text-anchor="middle" fill="#000" stroke="#000" stroke-width="0.2">*</text>
<text x="375.0" y="401.0" font-size="10.9" transform="rotate(30 375.0 401.0)" textLength="40.0" lengthAdjust="spacingAndGlyphs" stroke="#231815" stroke-width="0.2">Control</text>
<text x="413.8" y="400.0" font-size="10.9" transform="rotate(30 413.8 400.0)" textLength="22.0" lengthAdjust="spacingAndGlyphs" stroke="#231815" stroke-width="0.2">VPA</text>
<text x="449.2" y="400.6" font-size="10.9" transform="rotate(30 449.2 400.6)" textLength="22.0" lengthAdjust="spacingAndGlyphs" stroke="#231815" stroke-width="0.2">VPA</text>
<text x="443.3" y="411.7" font-size="10.9" transform="rotate(30 443.3 411.7)" textLength="53.3" lengthAdjust="spacingAndGlyphs" stroke="#231815" stroke-width="0.2">+AST-001</text>
<text x="444.1" y="427.0" font-size="10.9" transform="rotate(30 444.1 427.0)" textLength="55.6" lengthAdjust="spacingAndGlyphs" stroke="#231815" stroke-width="0.2">250 mg/kg</text>
<text x="491.0" y="400.6" font-size="10.9" transform="rotate(30 491.0 400.6)" textLength="22.0" lengthAdjust="spacingAndGlyphs" stroke="#231815" stroke-width="0.2">VPA</text>
<text x="485.7" y="409.9" font-size="10.9" transform="rotate(30 485.7 409.9)" textLength="53.3" lengthAdjust="spacingAndGlyphs" stroke="#231815" stroke-width="0.2">+AST-001</text>
<text x="491.2" y="426.8" font-size="10.9" transform="rotate(30 491.2 426.8)" textLength="55.6" lengthAdjust="spacingAndGlyphs" stroke="#231815" stroke-width="0.2">500 mg/kg</text>
<path d="M370.7 623.9 V584.1 H395.9 V623.9" fill="#fff" stroke="#000" stroke-width="1.8" stroke-linejoin="miter"/>
<path d="M410.3 623.9 V616.1 H435.5 V623.9" fill="#fff" stroke="#000" stroke-width="1.8" stroke-linejoin="miter"/>
<path d="M450.4 623.9 V609.4 H475.6 V623.9" fill="#fff" stroke="#000" stroke-width="1.8" stroke-linejoin="miter"/>
<path d="M489.9 623.9 V587.2 H515.1 V623.9" fill="#fff" stroke="#000" stroke-width="1.8" stroke-linejoin="miter"/>
<line x1="357.9" y1="623.9" x2="529.8" y2="623.9" stroke="#000" stroke-width="1.4"/>
<line x1="383.3" y1="566.0" x2="383.3" y2="601.3" stroke="#000" stroke-width="1.2"/>
<line x1="376.9" y1="566.0" x2="389.7" y2="566.0" stroke="#000" stroke-width="1.2"/>
<line x1="376.9" y1="601.3" x2="389.7" y2="601.3" stroke="#000" stroke-width="1.2"/>
<circle cx="383.2" cy="555.2" r="2.4" fill="none" stroke="#000" stroke-width="1.2"/>
<circle cx="378.3" cy="579.5" r="2.4" fill="none" stroke="#000" stroke-width="1.2"/>
<circle cx="388.3" cy="580.8" r="2.4" fill="none" stroke="#000" stroke-width="1.2"/>
<circle cx="378.3" cy="587.7" r="2.4" fill="none" stroke="#000" stroke-width="1.2"/>
<circle cx="388.3" cy="591.5" r="2.4" fill="none" stroke="#000" stroke-width="1.2"/>
<circle cx="383.2" cy="609.4" r="2.4" fill="none" stroke="#000" stroke-width="1.2"/>
<line x1="422.9" y1="589.7" x2="422.9" y2="640.9" stroke="#000" stroke-width="1.2"/>
<line x1="416.5" y1="589.7" x2="429.3" y2="589.7" stroke="#000" stroke-width="1.2"/>
<line x1="416.5" y1="640.9" x2="429.3" y2="640.9" stroke="#000" stroke-width="1.2"/>
<circle cx="427.9" cy="589.7" r="2.55" fill="#000"/>
<circle cx="418.0" cy="594.1" r="2.55" fill="#000"/>
<circle cx="427.9" cy="598.2" r="2.55" fill="#000"/>
<circle cx="422.8" cy="621.2" r="2.55" fill="#000"/>
<circle cx="422.8" cy="637.6" r="2.55" fill="#000"/>
<circle cx="422.8" cy="651.9" r="2.55" fill="#000"/>
<line x1="463.0" y1="584.1" x2="463.0" y2="633.2" stroke="#000" stroke-width="1.2"/>
<line x1="456.6" y1="584.1" x2="469.4" y2="584.1" stroke="#000" stroke-width="1.2"/>
<line x1="456.6" y1="633.2" x2="469.4" y2="633.2" stroke="#000" stroke-width="1.2"/>
<polygon points="457.9,583.2 455.6,587.2 460.2,587.2" fill="none" stroke="#000" stroke-width="1.15"/>
<polygon points="468.1,585.8 465.8,589.9 470.4,589.9" fill="none" stroke="#000" stroke-width="1.15"/>
<polygon points="463.0,599.9 460.7,603.9 465.3,603.9" fill="none" stroke="#000" stroke-width="1.15"/>
<polygon points="463.0,628.3 460.7,632.4 465.3,632.4" fill="none" stroke="#000" stroke-width="1.15"/>
<polygon points="463.0,636.4 460.7,640.4 465.3,640.4" fill="none" stroke="#000" stroke-width="1.15"/>
<line x1="502.5" y1="569.3" x2="502.5" y2="603.8" stroke="#000" stroke-width="1.2"/>
<line x1="496.1" y1="569.3" x2="508.9" y2="569.3" stroke="#000" stroke-width="1.2"/>
<line x1="496.1" y1="603.8" x2="508.9" y2="603.8" stroke="#000" stroke-width="1.2"/>
<polygon points="502.4,550.6 499.7,555.5 505.1,555.5" fill="#000" stroke="#000" stroke-width="0.3" stroke-linejoin="round"/>
<polygon points="502.4,583.3 499.7,588.2 505.1,588.2" fill="#000" stroke="#000" stroke-width="0.3" stroke-linejoin="round"/>
<polygon points="497.5,591.7 494.8,596.6 500.2,596.6" fill="#000" stroke="#000" stroke-width="0.3" stroke-linejoin="round"/>
<polygon points="507.7,594.0 505.0,598.9 510.4,598.9" fill="#000" stroke="#000" stroke-width="0.3" stroke-linejoin="round"/>
<polygon points="497.5,598.7 494.8,603.6 500.2,603.6" fill="#000" stroke="#000" stroke-width="0.3" stroke-linejoin="round"/>
<polygon points="502.4,589.0 499.7,593.9 505.1,593.9" fill="#000" stroke="#000" stroke-width="0.3" stroke-linejoin="round"/>
<line x1="357.9" y1="539.5" x2="357.9" y2="666.5" stroke="#000" stroke-width="1.4"/>
<line x1="357.2" y1="665.8" x2="529.8" y2="665.8" stroke="#000" stroke-width="1.4"/>
<line x1="352.5" y1="540.2" x2="357.9" y2="540.2" stroke="#000" stroke-width="1.4"/>
<text x="351.5" y="543.9" font-size="10.4" text-anchor="end" textLength="16.5" lengthAdjust="spacingAndGlyphs" stroke="#231815" stroke-width="0.2">0.8</text>
<line x1="352.5" y1="582.1" x2="357.9" y2="582.1" stroke="#000" stroke-width="1.4"/>
<text x="351.5" y="585.8" font-size="10.4" text-anchor="end" textLength="16.5" lengthAdjust="spacingAndGlyphs" stroke="#231815" stroke-width="0.2">0.4</text>
<line x1="352.5" y1="623.9" x2="357.9" y2="623.9" stroke="#000" stroke-width="1.4"/>
<text x="351.5" y="627.6" font-size="10.4" text-anchor="end" textLength="16.5" lengthAdjust="spacingAndGlyphs" stroke="#231815" stroke-width="0.2">0.0</text>
<line x1="352.5" y1="665.8" x2="357.9" y2="665.8" stroke="#000" stroke-width="1.4"/>
<text x="351.5" y="669.5" font-size="10.4" text-anchor="end" textLength="23.5" lengthAdjust="spacingAndGlyphs" stroke="#231815" stroke-width="0.2">−0.4</text>
<line x1="383.3" y1="665.8" x2="383.3" y2="670.8" stroke="#000" stroke-width="1.4"/>
<line x1="422.9" y1="665.8" x2="422.9" y2="670.8" stroke="#000" stroke-width="1.4"/>
<line x1="463.0" y1="665.8" x2="463.0" y2="670.8" stroke="#000" stroke-width="1.4"/>
<line x1="502.5" y1="665.8" x2="502.5" y2="670.8" stroke="#000" stroke-width="1.4"/>
<text x="325.0" y="601.2" font-size="10.7" text-anchor="middle" transform="rotate(-90 325.0 601.2)" textLength="90.7" lengthAdjust="spacingAndGlyphs" stroke="#231815" stroke-width="0.2">Preference index</text>
<path d="M383.2 548.7 V541.5 H420.5 V573.1" fill="none" stroke="#000" stroke-width="1.15"/>
<text x="401.4" y="538.7" font-size="9.5" text-anchor="middle" fill="#000" stroke="#000" stroke-width="0.2">*</text>
<path d="M425.4 573.1 V541.5 H463.2 V566.0" fill="none" stroke="#000" stroke-width="1.15"/>
<text x="444.3" y="537.2" font-size="10.0" text-anchor="middle" textLength="11.3" lengthAdjust="spacingAndGlyphs" fill="#000" stroke="#000" stroke-width="0.2">ns</text>
<path d="M422.6 533.2 V522.7 H502.7 V549.0" fill="none" stroke="#000" stroke-width="1.15"/>
<text x="462.7" y="521.0" font-size="9.5" text-anchor="middle" fill="#000" stroke="#000" stroke-width="0.2">*</text>
<text x="373.4" y="678.3" font-size="10.9" transform="rotate(30 373.4 678.3)" textLength="40.0" lengthAdjust="spacingAndGlyphs" stroke="#231815" stroke-width="0.2">Control</text>
<text x="416.6" y="679.5" font-size="10.9" transform="rotate(30 416.6 679.5)" textLength="22.0" lengthAdjust="spacingAndGlyphs" stroke="#231815" stroke-width="0.2">VPA</text>
<text x="456.4" y="680.0" font-size="10.9" transform="rotate(30 456.4 680.0)" textLength="22.0" lengthAdjust="spacingAndGlyphs" stroke="#231815" stroke-width="0.2">VPA</text>
<text x="450.5" y="689.3" font-size="10.9" transform="rotate(30 450.5 689.3)" textLength="53.3" lengthAdjust="spacingAndGlyphs" stroke="#231815" stroke-width="0.2">+AST-001</text>
<text x="451.7" y="706.1" font-size="10.9" transform="rotate(30 451.7 706.1)" textLength="54.6" lengthAdjust="spacingAndGlyphs" stroke="#231815" stroke-width="0.2">250 mg/kg</text>
<text x="497.6" y="678.8" font-size="10.9" transform="rotate(30 497.6 678.8)" textLength="22.0" lengthAdjust="spacingAndGlyphs" stroke="#231815" stroke-width="0.2">VPA</text>
<text x="490.8" y="688.7" font-size="10.9" transform="rotate(30 490.8 688.7)" textLength="53.3" lengthAdjust="spacingAndGlyphs" stroke="#231815" stroke-width="0.2">+AST-001</text>
<text x="496.3" y="704.5" font-size="10.9" transform="rotate(30 496.3 704.5)" textLength="54.6" lengthAdjust="spacingAndGlyphs" stroke="#231815" stroke-width="0.2">500 mg/kg</text>
</svg>
</body></html>
